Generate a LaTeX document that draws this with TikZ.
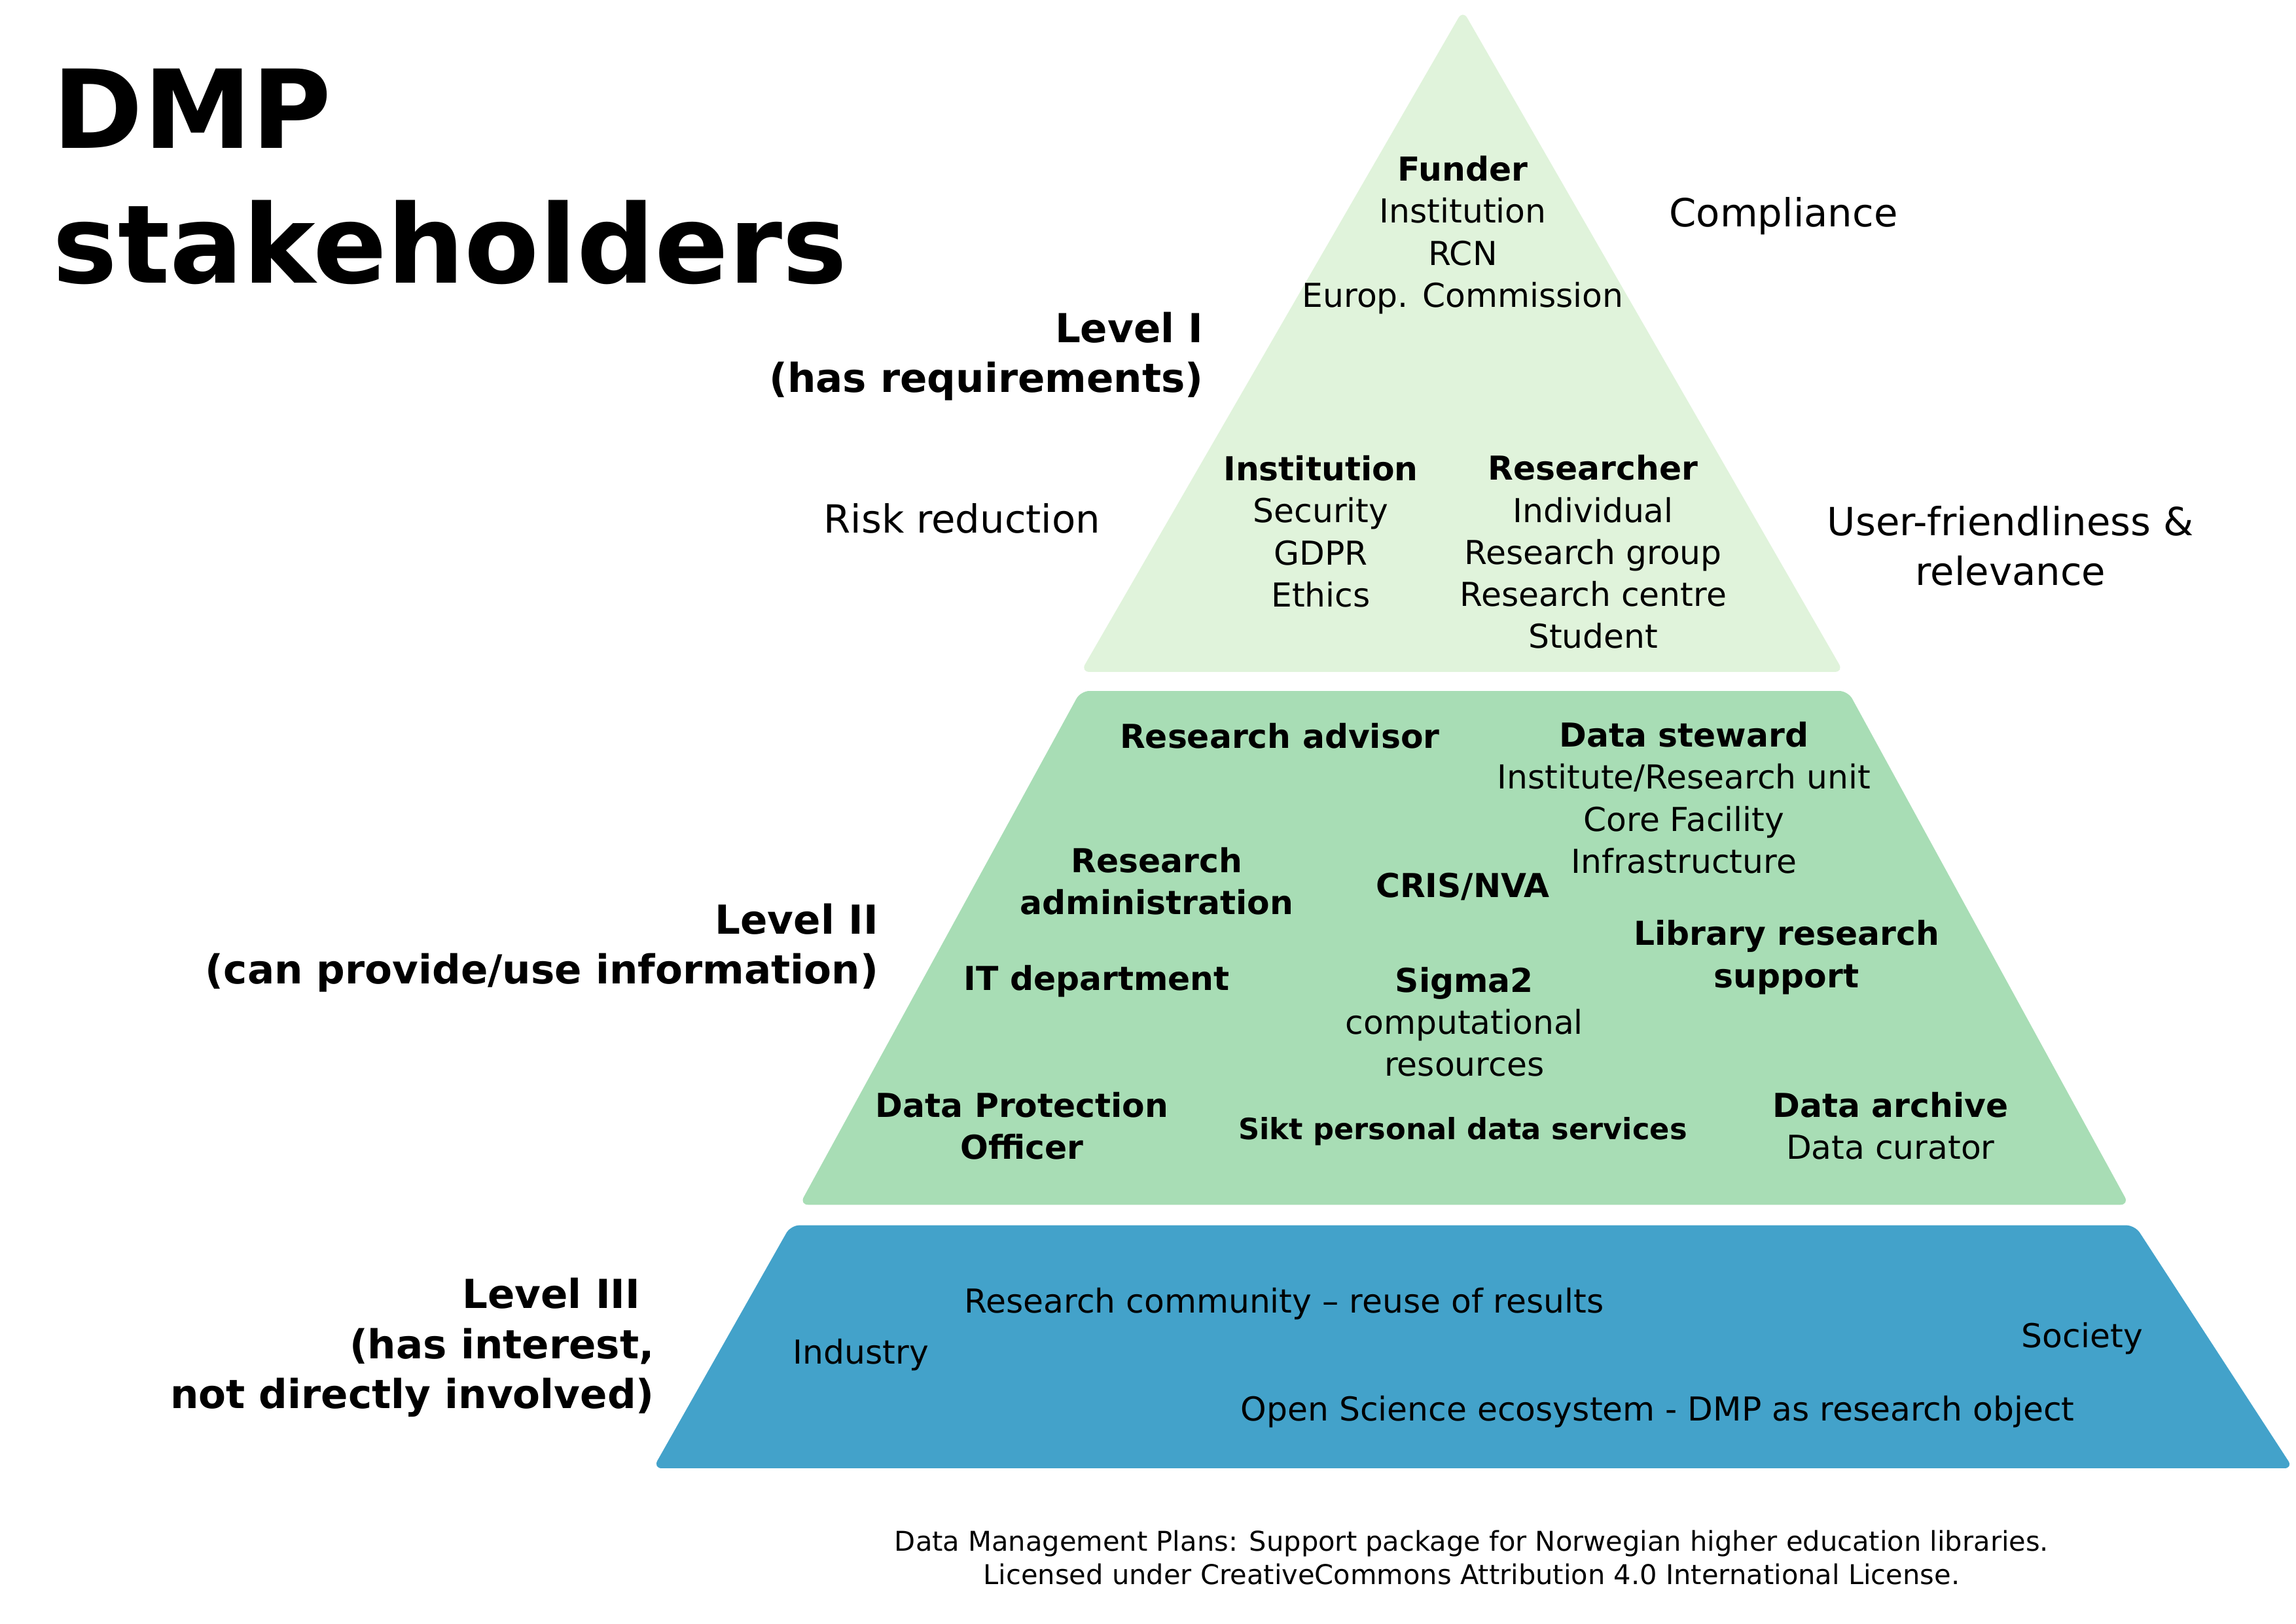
\documentclass[tikz,border=0pt]{standalone}
\usepackage{fontspec}
\setmainfont{DejaVu Sans}
\definecolor{lvlone}{HTML}{E0F3DB}
\definecolor{lvltwo}{HTML}{A8DDB5}
\definecolor{lvlthree}{HTML}{43A2CA}
\tikzset{
  base/.style={inner sep=0pt, align=center, text=black},
  item/.style={base, font=\fontsize{22.5}{28.7}\selectfont},
  sikt/.style={base, font=\bfseries\fontsize{20}{25}\selectfont},
  side/.style={base, font=\fontsize{26.5}{34}\selectfont},
  lvl/.style={base, align=right, anchor=east, font=\bfseries\fontsize{27.3}{34}\selectfont},
  foot/.style={base, font=\fontsize{18.6}{23}\selectfont},
  ttl/.style={base, align=left, anchor=north west, font=\bfseries\fontsize{74.4}{92}\selectfont},
  tier/.style={draw=none, rounded corners=6pt}
}
\begin{document}
\begin{tikzpicture}[x=1pt, y=-1pt]
\useasboundingbox (0,0) rectangle (1568,1109);
% tiers
\fill[tier, lvlone] (999,7) -- (1259,459) -- (738,459) -- cycle;
\fill[tier, lvltwo] (738,472) -- (1262,472) -- (1454,823) -- (546,823) -- cycle;
\fill[tier, lvlthree] (540,837) -- (1458,837) -- (1566,1003) -- (446,1003) -- cycle;
% title
\node[ttl] (title) at (36,47) {DMP\\stakeholders};
% level labels
\node[lvl] (l1) at (822,243.5) {Level I\\(has requirements)};
\node[lvl] (l2) at (600,647.5) {Level II\\(can provide/use information)};
\node[lvl] (l3) at (447,920.5) {Level III\kern0.35em\\(has interest,\\not directly involved)};
% side labels
\node[side] (comp) at (1218,147.5) {Compliance};
\node[side] (risk) at (657,354) {Risk reduction};
\node[side] (user) at (1373,373) {User-friendliness \&\\relevance};
% level I
\node[item] (funder) at (999,160.5) {\textbf{Funder}\\Institution\\RCN\\Europ. Commission};
\node[item] (inst) at (902,363) {\textbf{Institution}\\Security\\GDPR\\Ethics};
\node[item] (res) at (1088,377) {\textbf{Researcher}\\Individual\\Research group\\Research centre\\Student};
% level II
\node[item] (advisor) at (874,502.5) {\textbf{Research advisor}};
\node[item] (steward) at (1150,545) {\textbf{Data steward}\\Institute/Research unit\\Core Facility\\Infrastructure};
\node[item] (admin) at (790,602) {\textbf{Research}\\\textbf{administration}};
\node[item] (cris) at (999,605.5) {\textbf{CRIS/NVA}};
\node[item] (lib) at (1220,654) {\textbf{Library research}\\\textbf{support}};
\node[item] (it) at (749,670.5) {\textbf{IT department}};
\node[item] (sigma) at (1000,698) {\textbf{Sigma2}\\computational\\resources};
\node[item] (dpo) at (698,769) {\textbf{Data Protection}\\\textbf{Officer}};
\node[sikt] (siktn) at (999,773) {Sikt personal data services};
\node[item] (archive) at (1291,769) {\textbf{Data archive}\\Data curator};
% level III
\node[item] (community) at (877,890.5) {Research community – reuse of results};
\node[item] (industry) at (588,925.5) {Industry};
\node[item] (society) at (1422,914.5) {Society};
\node[item] (open) at (1132,964.5) {Open Science ecosystem - DMP as research object};
% footer
\node[foot] (footer) at (1005,1064) {Data Management Plans: Support package for Norwegian higher education libraries.\\Licensed under CreativeCommons Attribution 4.0 International License.};
\end{tikzpicture}
\end{document}
